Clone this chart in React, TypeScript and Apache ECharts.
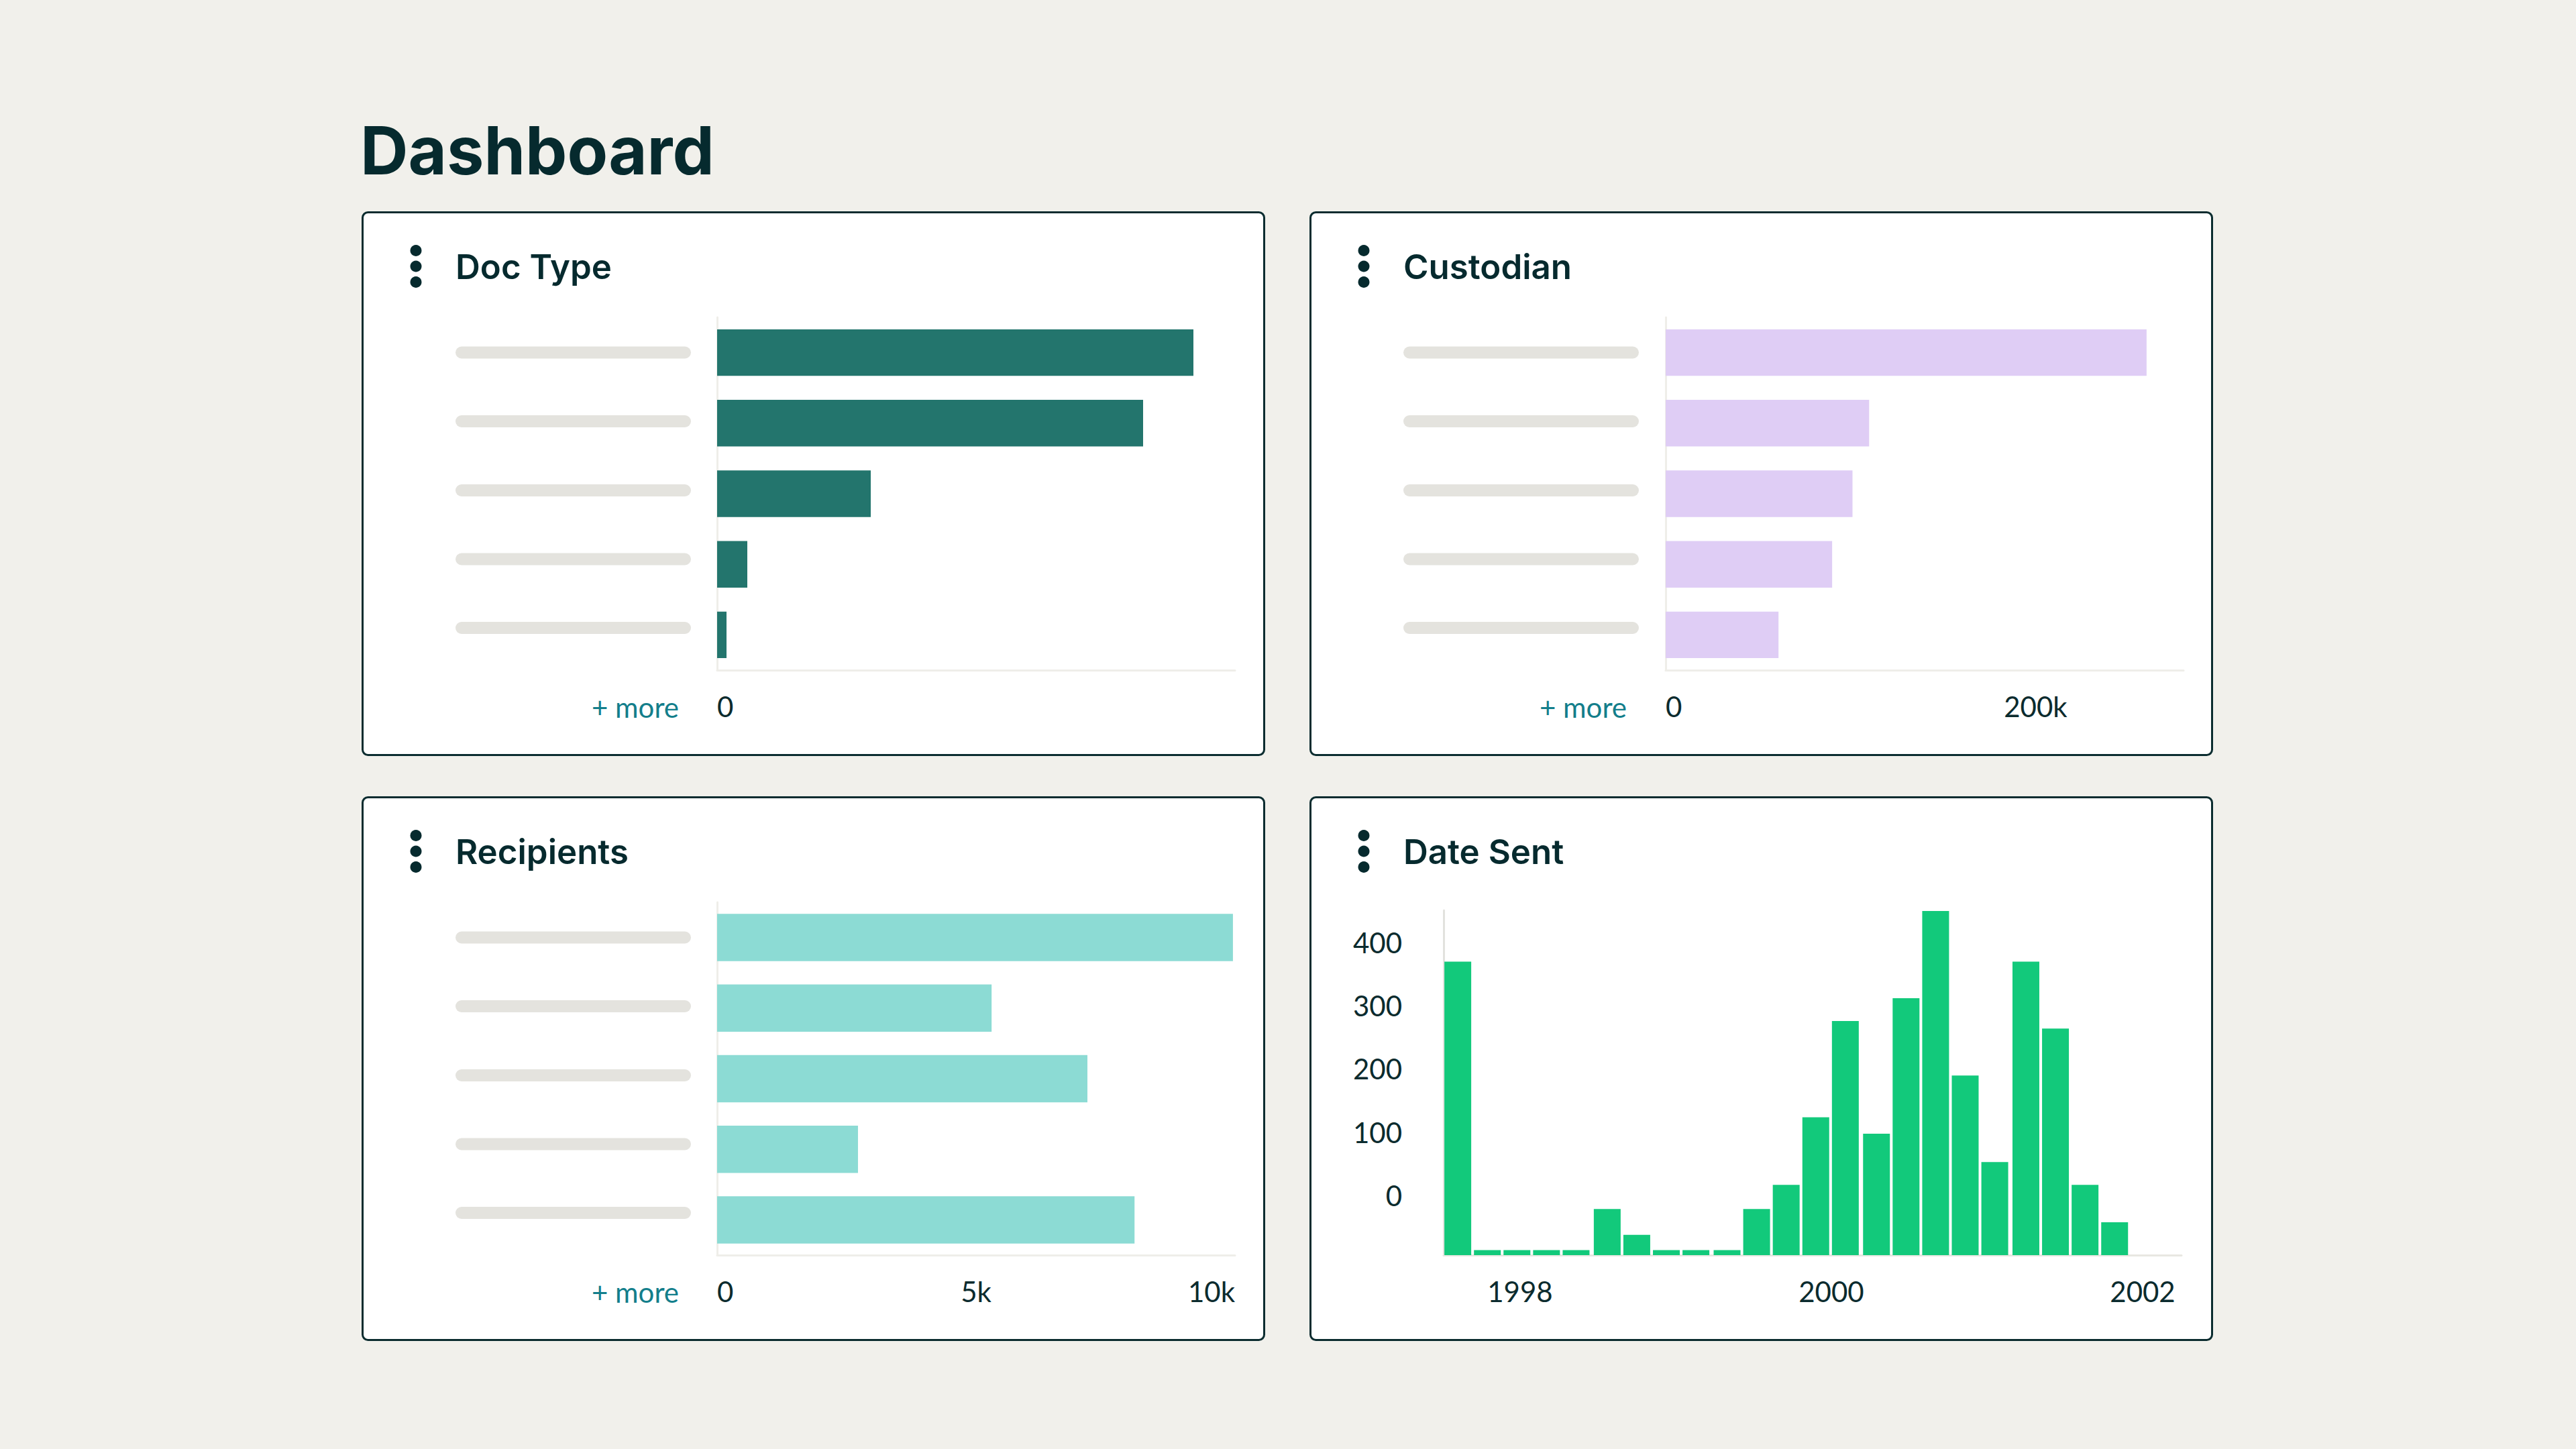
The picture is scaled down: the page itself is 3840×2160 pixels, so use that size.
import React, { useEffect, useRef } from "react";
import * as echarts from "echarts";

// ---------- data ----------
const docTypeCategories = ["Email", "Attachment", "Spreadsheet", "Presentation", "Image"];
const docTypeValues = [710000, 635000, 229000, 45000, 14000];
const docTypeMax = 772000;

const custodianCategories = ["Custodian A", "Custodian B", "Custodian C", "Custodian D", "Custodian E"];
const custodianValues = [260000, 110000, 101000, 90000, 61000];
const custodianMax = 280000;
const custodianInterval = 200000;

const recipientCategories = ["Recipient A", "Recipient B", "Recipient C", "Recipient D", "Recipient E"];
const recipientValues = [9960, 5300, 7150, 2720, 8060];
const recipientMax = 10000;
const recipientInterval = 5000;

const dateBinCenters = [
  1997.6, 1997.79, 1997.98, 1998.17, 1998.36, 1998.56, 1998.75, 1998.94, 1999.13, 1999.33,
  1999.52, 1999.71, 1999.9, 2000.09, 2000.29, 2000.48, 2000.67, 2000.86, 2001.05, 2001.25,
  2001.44, 2001.63, 2001.82,
];
const dateCounts = [
  464, 8, 8, 8, 8, 73, 32, 8, 8, 8, 73, 111, 218, 370, 192, 406, 544, 284, 147, 464, 358, 111, 52,
];
const dateYearTicks = [1998, 2000, 2002];
const dateCountTicks = [0, 100, 200, 300, 400];
const dateMin = 1997.509;
const dateMax = 2002.25;
const dateCountMax = 545;
// the reference's count labels sit ~94 units above the bars' baseline
const dateLabelOffset = 94.4;

const cardTitles = ["Doc Type", "Custodian", "Recipients", "Date Sent"];

// ---------- styles ----------
const FONT = "Lato, 'Noto Sans', sans-serif";
const TITLE_FONT = "Inter, Lato, sans-serif";
const DARK = "#062a2e";
const LABEL = "#0b2b2e";
const TEAL_TEXT = "#137e8b";
const BG = "#f1f0eb";
const PILL = "#e4e3de";
const AXIS = "#efeee9";

const cards = [
  { x: 539, y: 315, more: true },
  { x: 1952, y: 315, more: true },
  { x: 539, y: 1187, more: true },
  { x: 1952, y: 1187, more: false },
];
const pillOffsets = [210.5, 313, 416, 518.5, 621];

function buildGraphics() {
  const els: any[] = [
    {
      type: "text",
      x: 537,
      y: 224,
      z: 10,
      style: {
        text: "Dashboard",
        fontSize: 99,
        fontWeight: "bold",
        fontFamily: TITLE_FONT,
        fill: DARK,
        verticalAlign: "middle",
        align: "left",
      },
    },
  ];
  cards.forEach((c, i) => {
    els.push({
      type: "rect",
      z: -10,
      shape: { x: c.x + 1.5, y: c.y + 1.5, width: 1344, height: 809, r: 8 },
      style: { fill: "#ffffff", stroke: "#0b2c2f", lineWidth: 3 },
    });
    [58.5, 82, 105.5].forEach((dy) => {
      els.push({
        type: "circle",
        z: 10,
        shape: { cx: c.x + 81, cy: c.y + dy, r: 8.5 },
        style: { fill: DARK },
      });
    });
    els.push({
      type: "text",
      x: c.x + 140,
      y: c.y + 82,
      z: 10,
      style: {
        text: cardTitles[i],
        fontSize: 51,
        fontWeight: 600,
        fontFamily: TITLE_FONT,
        fill: DARK,
        verticalAlign: "middle",
        align: "left",
      },
    });
    if (c.more) {
      pillOffsets.forEach((dy) => {
        els.push({
          type: "rect",
          z: 10,
          shape: { x: c.x + 140, y: c.y + dy - 9, width: 351, height: 18, r: 9 },
          style: { fill: PILL },
        });
      });
      els.push({
        type: "text",
        x: c.x + 473,
        y: c.y + 739,
        z: 10,
        style: {
          text: "+ more",
          fontSize: 42,
          fontFamily: FONT,
          fill: TEAL_TEXT,
          verticalAlign: "middle",
          align: "right",
        },
      });
    }
  });
  return els;
}

const labelStyle = { fontSize: 42, color: LABEL, fontFamily: FONT };

function kFormat(v: number) {
  return v === 0 ? "0" : `${v / 1000}k`;
}

function buildOption(): any {
  const catY = (gridIndex: number, data: string[]) => ({
    gridIndex,
    type: "category",
    data,
    inverse: true,
    axisLine: { show: true, lineStyle: { color: AXIS, width: 3 } },
    axisTick: { show: false },
    axisLabel: { show: false },
    splitLine: { show: false },
  });
  return {
    animation: false,
    backgroundColor: BG,
    graphic: { elements: buildGraphics() },
    grid: [
      { left: 1069, top: 473, width: 772, height: 526 },
      { left: 2483, top: 473, width: 772, height: 526 },
      { left: 1069, top: 1345, width: 772, height: 526 },
      { left: 2152, top: 1357, width: 1100, height: 514 },
    ],
    xAxis: [
      {
        gridIndex: 0,
        type: "value",
        min: 0,
        max: docTypeMax,
        interval: docTypeMax,
        axisLine: { show: true, lineStyle: { color: AXIS, width: 3 } },
        axisTick: { show: false },
        splitLine: { show: false },
        axisLabel: { ...labelStyle, margin: 33, showMaxLabel: false, alignMinLabel: "left", formatter: kFormat },
      },
      {
        gridIndex: 1,
        type: "value",
        min: 0,
        max: custodianMax,
        interval: custodianInterval,
        axisLine: { show: true, lineStyle: { color: AXIS, width: 3 } },
        axisTick: { show: false },
        splitLine: { show: false },
        axisLabel: { ...labelStyle, margin: 33, showMaxLabel: false, alignMinLabel: "left", formatter: kFormat },
      },
      {
        gridIndex: 2,
        type: "value",
        min: 0,
        max: recipientMax,
        interval: recipientInterval,
        axisLine: { show: true, lineStyle: { color: AXIS, width: 3 } },
        axisTick: { show: false },
        splitLine: { show: false },
        axisLabel: {
          ...labelStyle,
          margin: 33,
          alignMinLabel: "left",
          alignMaxLabel: "right",
          formatter: kFormat,
        },
      },
      {
        gridIndex: 3,
        type: "value",
        min: dateMin,
        max: dateMax,
        axisLine: { show: true, onZero: false, lineStyle: { color: "#e8e7e2", width: 3 } },
        axisTick: { show: false },
        splitLine: { show: false },
        axisLabel: {
          ...labelStyle,
          margin: 33,
          customValues: dateYearTicks,
          formatter: (v: number) => String(Math.round(v)),
        },
      },
    ],
    yAxis: [
      catY(0, docTypeCategories),
      catY(1, custodianCategories),
      catY(2, recipientCategories),
      {
        gridIndex: 3,
        type: "value",
        min: 0,
        max: dateCountMax,
        axisLine: { show: true, onZero: false, lineStyle: { color: "#e2e2de", width: 3 } },
        axisTick: { show: false },
        splitLine: { show: false },
        axisLabel: { show: false },
      },
      {
        gridIndex: 3,
        type: "value",
        position: "left",
        min: -dateLabelOffset,
        max: dateCountMax - dateLabelOffset,
        axisLine: { show: false },
        axisTick: { show: false },
        splitLine: { show: false },
        axisLabel: {
          ...labelStyle,
          margin: 62,
          customValues: dateCountTicks,
          formatter: (v: number) => String(v),
        },
      },
    ],
    series: [
      {
        type: "bar",
        xAxisIndex: 0,
        yAxisIndex: 0,
        data: docTypeValues,
        barCategoryGap: "34%",
        itemStyle: { color: "#23756d" },
      },
      {
        type: "bar",
        xAxisIndex: 1,
        yAxisIndex: 1,
        data: custodianValues,
        barCategoryGap: "34%",
        itemStyle: { color: "#dfcdf5" },
      },
      {
        type: "bar",
        xAxisIndex: 2,
        yAxisIndex: 2,
        data: recipientValues,
        barCategoryGap: "33%",
        itemStyle: { color: "#8cdbd4" },
      },
      {
        type: "bar",
        xAxisIndex: 3,
        yAxisIndex: 3,
        data: dateBinCenters.map((x, i) => [x, dateCounts[i]]),
        barWidth: 40,
        itemStyle: { color: "#12c97b" },
      },
    ],
  };
}

export default function App() {
  const ref = useRef<HTMLDivElement>(null);
  useEffect(() => {
    document.body.style.margin = "0";
    const chart = echarts.init(ref.current!, null, { renderer: "svg", width: 3840, height: 2160 });
    chart.setOption(buildOption());
    return () => chart.dispose();
  }, []);
  return <div ref={ref} style={{ width: 3840, height: 2160, position: "absolute", left: 0, top: 0 }} />;
}
